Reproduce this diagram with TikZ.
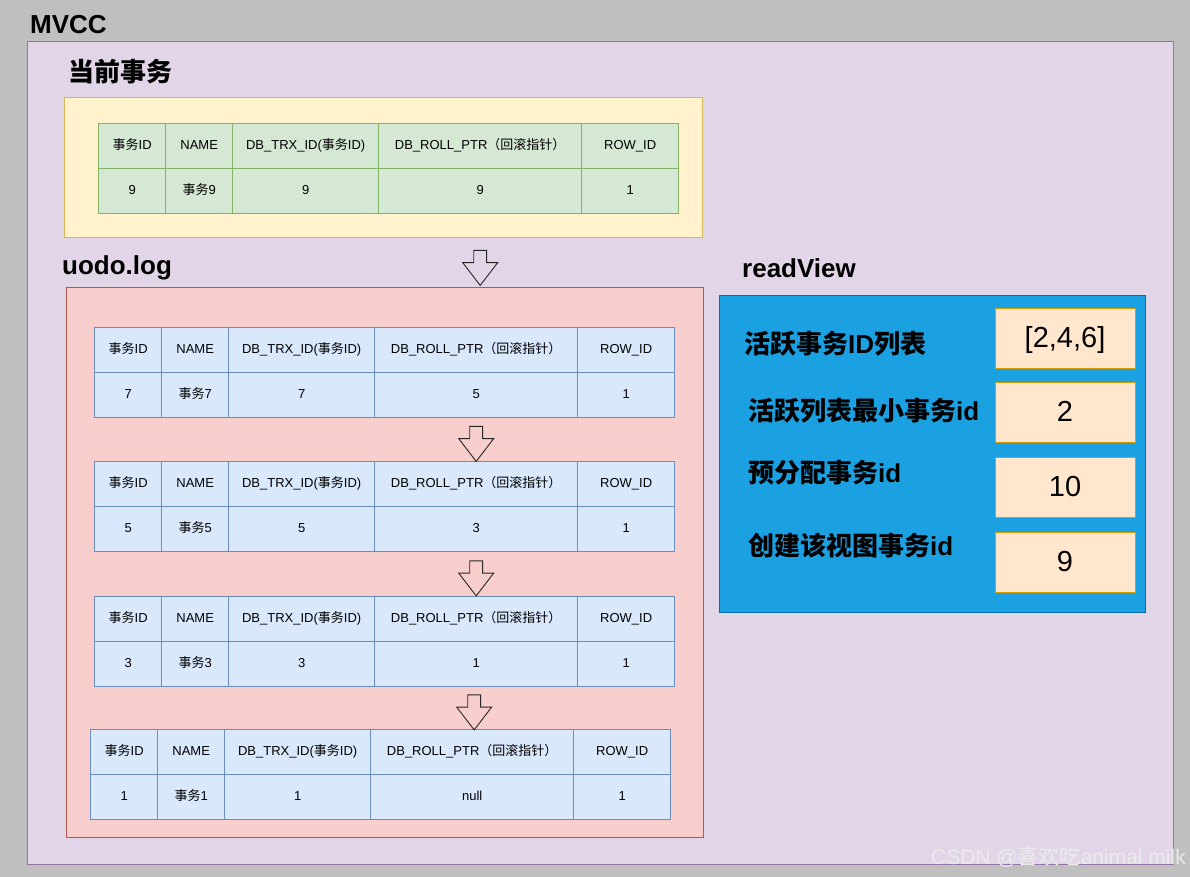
\documentclass[tikz,border=0pt]{standalone}
\usepackage{fontspec}
\setmainfont{Liberation Sans}
\newfontfamily\cjk{Noto Sans CJK SC}
\newcommand{\zh}[1]{{\cjk #1}}
\newcommand{\fsz}[1]{\fontsize{#1}{#1}\selectfont}
\usepackage{tikz}
\usetikzlibrary{matrix,shapes.arrows,calc}
\definecolor{pagegray}{RGB}{191,191,191}
\definecolor{mvccfill}{HTML}{E1D5E7}
\definecolor{mvccline}{HTML}{9673A6}
\definecolor{curfill}{HTML}{FFF2CC}
\definecolor{curline}{HTML}{D6B656}
\definecolor{rowfill}{HTML}{D5E8D4}
\definecolor{rowline}{HTML}{82B366}
\definecolor{logfill}{HTML}{F8CECC}
\definecolor{logline}{HTML}{B85450}
\definecolor{oldfill}{HTML}{DAE8FC}
\definecolor{oldline}{HTML}{6C8EBF}
\definecolor{viewfill}{HTML}{1BA1E2}
\definecolor{viewline}{HTML}{006EAF}
\definecolor{valfill}{HTML}{FFE6CC}
\definecolor{valline}{HTML}{D79B00}

\begin{document}
\begin{tikzpicture}[x=1pt,y=-1pt,
	box/.style={draw=#1line,fill=#1fill,line width=1pt,inner sep=0,outer sep=0,anchor=north west},
	title/.style={font=\bfseries\fsz{26},inner sep=0,anchor=west},
	rowtable/.style={matrix of nodes,ampersand replacement=\&,anchor=north west,inner sep=0,
		row sep=-1pt,column sep=-1pt,
		nodes={draw=#1line,fill=#1fill,line width=1pt,minimum height=45,inner sep=0,
			text height=10,text depth=3,font=\fsz{13}},
		column 1/.style={nodes={minimum width=67}},
		column 2/.style={nodes={minimum width=67}},
		column 3/.style={nodes={minimum width=146}},
		column 4/.style={nodes={minimum width=203}},
		column 5/.style={nodes={minimum width=97}}},
	downarrow/.style={single arrow,draw=black!85,line width=0.9pt,rotate=-90,minimum height=35,
		minimum width=34,inner sep=6,single arrow tip angle=75,single arrow head extend=11},
	field/.style={font=\bfseries\fsz{26},inner sep=0,anchor=west},
	valbox/.style={draw=valline,fill=valfill,line width=1pt,minimum width=140,minimum height=60,
		inner sep=0,text height=21,text depth=3,font=\fsz{29}}]
	\fill[pagegray] (0,0) rectangle (1190,877);
	\useasboundingbox (0,0) rectangle (1190,877);
	% outer frame
	\node[title] (mvcc) at (30,25) {MVCC};
	\node[box=mvcc,minimum width=1146,minimum height=822] (frame) at (27,42) {};
	% current row
	\node[title] (curtitle) at (68,72) {\zh{当前事务}};
	\node[box=cur,minimum width=638,minimum height=140] (curbox) at (64,98) {};
	\matrix (cur) [rowtable=row] at (98,123)
	{
		\zh{事务}ID \& NAME \& DB\_TRX\_ID(\zh{事务}ID) \& DB\_ROLL\_PTR\zh{（回滚指针）} \& ROW\_ID \\
		9 \& \zh{事务}9 \& 9 \& 9 \& 1 \\};
	\node[downarrow] (a0) at ($(cur-2-4.south)+(0,49.5)$) {};
	% undo log
	\node[title] (logtitle) at (62,268) {uodo.log};
	\node[box=log,minimum width=637,minimum height=550] (logbox) at (66,287) {};
	\matrix (log1) [rowtable=old] at (94,327)
	{
		\zh{事务}ID \& NAME \& DB\_TRX\_ID(\zh{事务}ID) \& DB\_ROLL\_PTR\zh{（回滚指针）} \& ROW\_ID \\
		7 \& \zh{事务}7 \& 7 \& 5 \& 1 \\};
	\matrix (log2) [rowtable=old] at (94,461)
	{
		\zh{事务}ID \& NAME \& DB\_TRX\_ID(\zh{事务}ID) \& DB\_ROLL\_PTR\zh{（回滚指针）} \& ROW\_ID \\
		5 \& \zh{事务}5 \& 5 \& 3 \& 1 \\};
	\matrix (log3) [rowtable=old] at (94,596)
	{
		\zh{事务}ID \& NAME \& DB\_TRX\_ID(\zh{事务}ID) \& DB\_ROLL\_PTR\zh{（回滚指针）} \& ROW\_ID \\
		3 \& \zh{事务}3 \& 3 \& 1 \& 1 \\};
	\matrix (log4) [rowtable=old] at (90,729)
	{
		\zh{事务}ID \& NAME \& DB\_TRX\_ID(\zh{事务}ID) \& DB\_ROLL\_PTR\zh{（回滚指针）} \& ROW\_ID \\
		1 \& \zh{事务}1 \& 1 \& null \& 1 \\};
	\node[downarrow] (a1) at ($(log1-2-4.south)!0.5!(log2-1-4.north)$) {};
	\node[downarrow] (a2) at ($(log2-2-4.south)!0.5!(log3-1-4.north)$) {};
	\node[downarrow] (a3) at ($(log3-2-4.south)!0.5!(log4-1-4.north)$) {};
	% read view
	\node[title] (viewtitle) at (742,268) {readView};
	\node[box=view,minimum width=426,minimum height=317] (viewbox) at (719,295) {};
	\node[valbox] (v1) at (1065,338.5) {[2,4,6]};
	\node[valbox] (v2) at (1065,412) {2};
	\node[valbox] (v3) at (1065,487) {10};
	\node[valbox] (v4) at (1065,562) {9};
	\node[field] (f1) at (744,344) {\zh{活跃事务}ID\zh{列表}};
	\node[field] (f2) at (748,411) {\zh{活跃列表最小事务}id};
	\node[field] (f3) at (748,473) {\zh{预分配事务}id};
	\node[field] (f4) at (748,546) {\zh{创建该视图事务}id};
	\node[anchor=east,inner sep=0,text=white!92!black,font=\fsz{21}] (mark) at (1186,857)
		{CSDN @\zh{喜欢吃}animal milk};
\end{tikzpicture}
\end{document}
